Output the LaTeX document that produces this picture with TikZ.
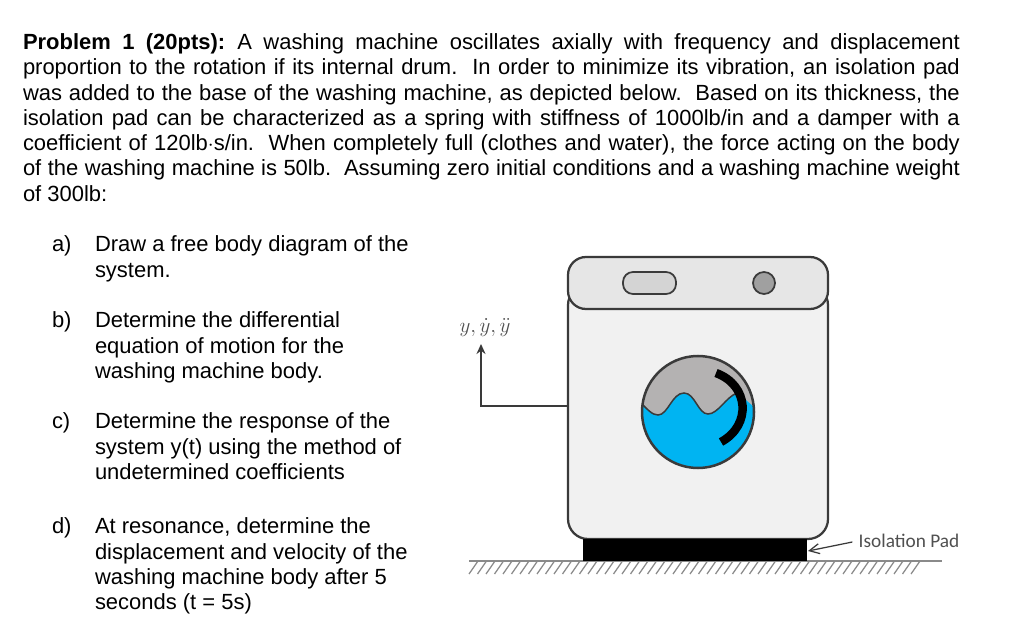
\documentclass[tikz,border=0pt]{standalone}
\usepackage{amsmath}
\usepackage{fontspec}
\setmainfont{Liberation Sans}
\newfontfamily\labelfont{Carlito}
\usetikzlibrary{arrows.meta}
\definecolor{outline}{HTML}{3A3A3A}
\definecolor{bodygray}{HTML}{F1F1F1}
\definecolor{panelgray}{HTML}{E6E6E6}
\definecolor{ovalgray}{HTML}{D4D4D4}
\definecolor{knobgray}{HTML}{A0A0A0}
\definecolor{drumgray}{HTML}{B4B2B2}
\definecolor{waterblue}{HTML}{00B4F2}
\definecolor{hatchgray}{HTML}{8A8A8A}
\definecolor{labelgray}{HTML}{505050}

\begin{document}
\begin{tikzpicture}[x=0.02cm,y=-0.02cm,
	para/.style={anchor=north west, inner sep=0pt, outer sep=0pt, align=left, font=\fontsize{12.5}{14.4}\selectfont},
	part/.style={draw=outline, line width=0.045cm},
	leader/.style={draw=outline, line width=0.04cm}]
	\useasboundingbox (0,0) rectangle (1020,634);
	%%%text
	\node[para, text width=18.74cm, align=justify] at (23,33.5) (problem){\textbf{Problem 1 (20pts):}\hspace{-0.3em} A washing machine oscillates axially with frequency and displacement\linebreak
	proportion to the rotation if its internal drum.\ \ In order to minimize its vibration, an isolation pad\linebreak
	was added to the base of the washing machine, as depicted below.\ \ Based on its thickness, the\linebreak
	isolation pad can be characterized as a spring with stiffness of 1000lb/in and a damper with a\linebreak
	coefficient of 120lb$\cdot$s/in.\ \ When completely full (clothes and water), the force acting on the body\linebreak
	of the washing machine is 50lb.\ \ Assuming zero initial conditions and a washing machine weight\linebreak
	of 300lb:};
	%a)
	\node[para] at (52,236) (marka){a)};
	\node[para] at (95,236) (parta){Draw a free body diagram of the\\system.};
	%b)
	\node[para] at (52,312) (markb){b)};
	\node[para] at (95,312) (partb){Determine the differential\\equation of motion for the\\washing machine body.};
	%c)
	\node[para] at (52,413) (markc){c)};
	\node[para] at (95,413) (partc){Determine the response of the\\system y(t) using the method of\\undetermined coefficients};
	%d)
	\node[para] at (52,518) (markd){d)};
	\node[para] at (95,518) (partd){At resonance, determine the\\displacement and velocity of the\\washing machine body after 5\\seconds (t = 5s)};
	%%%ground
	\foreach \i in {0,...,52}
		\draw[hatchgray, line width=0.025cm] (478+8.5*\i,561) -- (469+8.5*\i,574);
	\draw[hatchgray, line width=0.03cm] (469,561) -- (942,561);
	%%%machine
	\draw[part, fill=bodygray, rounded corners=0.4cm] (568,285) rectangle (828,539);
	\fill (583,539) rectangle (807,561);
	\draw[part, fill=panelgray, rounded corners=0.36cm] (568,257) rectangle (828,309);
	\draw[part, line width=0.035cm, fill=ovalgray, rounded corners=0.2cm] (623,272) rectangle (676,294);
	\draw[part, line width=0.035cm, fill=knobgray] (764,283) circle (11);
	%%%drum
	\fill[drumgray] (698,412) circle (56);
	\begin{scope}
		\clip (698,412) circle (56);
		\fill[waterblue] (636,398) .. controls (648,410) and (652,415) .. (658,415)
			.. controls (668,415) and (672,393) .. (684,393)
			.. controls (695,393) and (698,414) .. (708,414)
			.. controls (718,414) and (726,397) .. (737,393)
			.. controls (742,396) and (750,404) .. (760,412)
			-- (760,475) -- (636,475) -- cycle;
		\draw[outline, line width=0.03cm] (636,398) .. controls (648,410) and (652,415) .. (658,415)
			.. controls (668,415) and (672,393) .. (684,393)
			.. controls (695,393) and (698,414) .. (708,414)
			.. controls (718,414) and (726,397) .. (737,393);
	\end{scope}
	\draw[outline, line width=0.05cm] (698,412) circle (56);
	\draw[black, line width=0.17cm] (716,373) .. controls (749,385) and (752,425) .. (721,442);
	%%%links
	\coordinate (bodyleft) at (568,406);
	\coordinate (padedge) at (808,551);
	\node[inner sep=0pt, text=labelgray, font=\fontsize{12.5}{14}\selectfont] at (485,328) (motion){$y,\dot y,\ddot y$};
	\node[inner sep=0pt, text=labelgray, font=\labelfont\fontsize{11}{13}\selectfont] at (909,541) (padlabel){Isolation Pad};
	\draw[leader, -{Stealth[length=0.2cm,width=0.18cm]}] (bodyleft) -- (481,406) -- (481,344);
	\draw[leader, line width=0.025cm, -{Straight Barb[length=0.2cm,width=0.2cm]}] (padlabel.west) ++(-6,1) -- (padedge);
\end{tikzpicture}
\end{document}
